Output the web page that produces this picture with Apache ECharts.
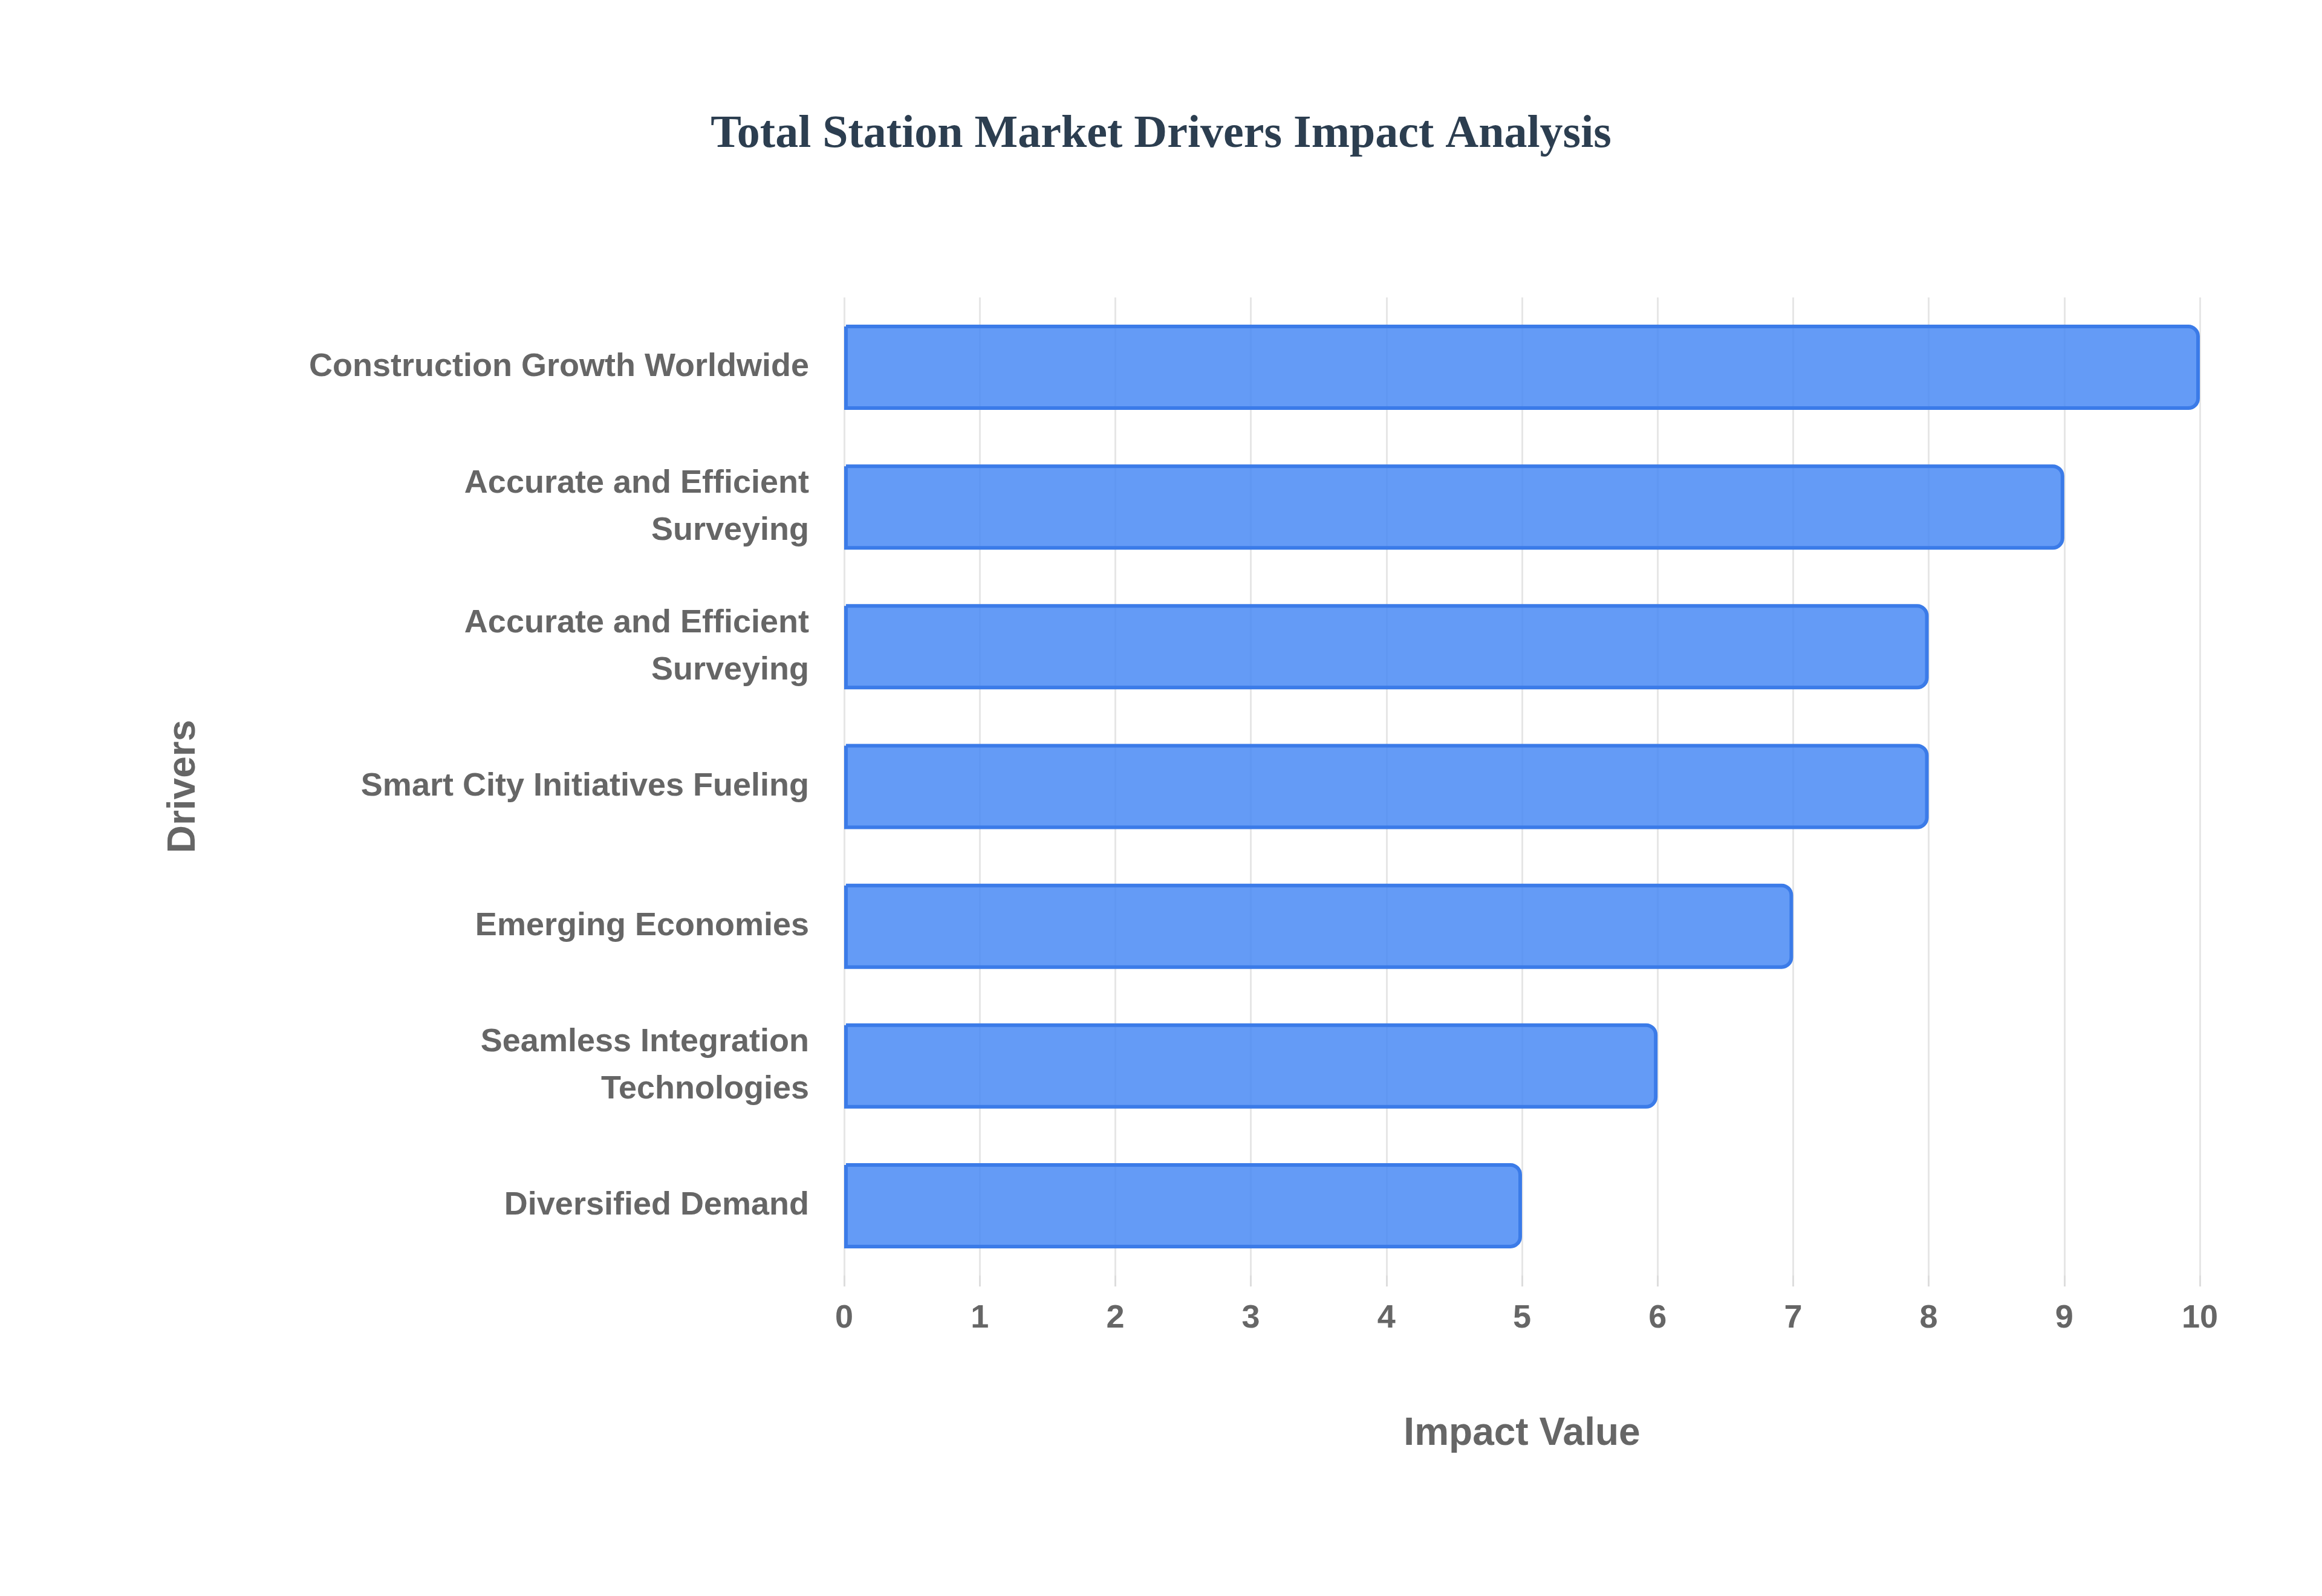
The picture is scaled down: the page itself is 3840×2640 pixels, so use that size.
<!DOCTYPE html>
<html>
<head>
<meta charset="utf-8">
<script src="https://cdn.jsdelivr.net/npm/echarts@6/dist/echarts.min.js"></script>
<style>
  html, body { margin: 0; padding: 0; background: #fff; }
  #chart { width: 3840px; height: 2640px; }
</style>
</head>
<body>
<div id="chart"></div>
<script>
// 类别（自上而下）
const driverIds = ["d1", "d2", "d3", "d4", "d5", "d6", "d7"];
const driverLabels = [
  "Construction Growth Worldwide",
  "Accurate and Efficient\nSurveying",
  "Accurate and Efficient\nSurveying",
  "Smart City Initiatives Fueling",
  "Emerging Economies",
  "Seamless Integration\nTechnologies",
  "Diversified Demand"
];
// 影响值
const impactValues = [10, 9, 8, 8, 7, 6, 5];

const chart = echarts.init(document.getElementById("chart"));

const labelStyle = {
  color: "#666",
  fontFamily: "Liberation Sans, Arial, sans-serif",
  fontWeight: "bold"
};

chart.setOption({
  backgroundColor: "#fff",
  title: {
    text: "Total Station Market Drivers Impact Analysis",
    left: "center",
    top: 180,
    textStyle: {
      fontFamily: "Liberation Serif, Times New Roman, serif",
      fontWeight: "bold",
      fontSize: 76,
      color: "#2c3e50"
    }
  },
  grid: { left: 1396, right: 202, top: 492, bottom: 530, containLabel: false },
  xAxis: {
    type: "value",
    min: 0,
    max: 10,
    interval: 1,
    name: "Impact Value",
    nameLocation: "middle",
    nameGap: 230,
    nameTextStyle: Object.assign({ fontSize: 64 }, labelStyle),
    axisLine: { show: false },
    axisTick: { show: true, length: 18, lineStyle: { color: "#ddd", width: 3 } },
    axisLabel: Object.assign({ fontSize: 54, margin: 44 }, labelStyle),
    splitLine: { show: true, lineStyle: { color: "#e6e6e6", width: 3 } }
  },
  yAxis: {
    type: "category",
    inverse: true,
    data: driverIds,
    name: "Drivers",
    nameLocation: "middle",
    nameGap: 1060,
    nameRotate: 90,
    nameTextStyle: Object.assign({ fontSize: 64 }, labelStyle),
    axisLine: { show: false },
    axisTick: { show: false },
    axisLabel: Object.assign({
      fontSize: 54,
      margin: 58,
      lineHeight: 78,
      align: "right",
      formatter: function (v) { return driverLabels[driverIds.indexOf(v)]; }
    }, labelStyle)
  },
  series: [{
    type: "bar",
    data: impactValues,
    barWidth: "61%",
    itemStyle: {
      color: "rgba(66,133,244,0.82)",
      borderColor: "#3b7be8",
      borderWidth: 6,
      borderRadius: [0, 16, 16, 0]
    }
  }]
});
</script>
</body>
</html>
